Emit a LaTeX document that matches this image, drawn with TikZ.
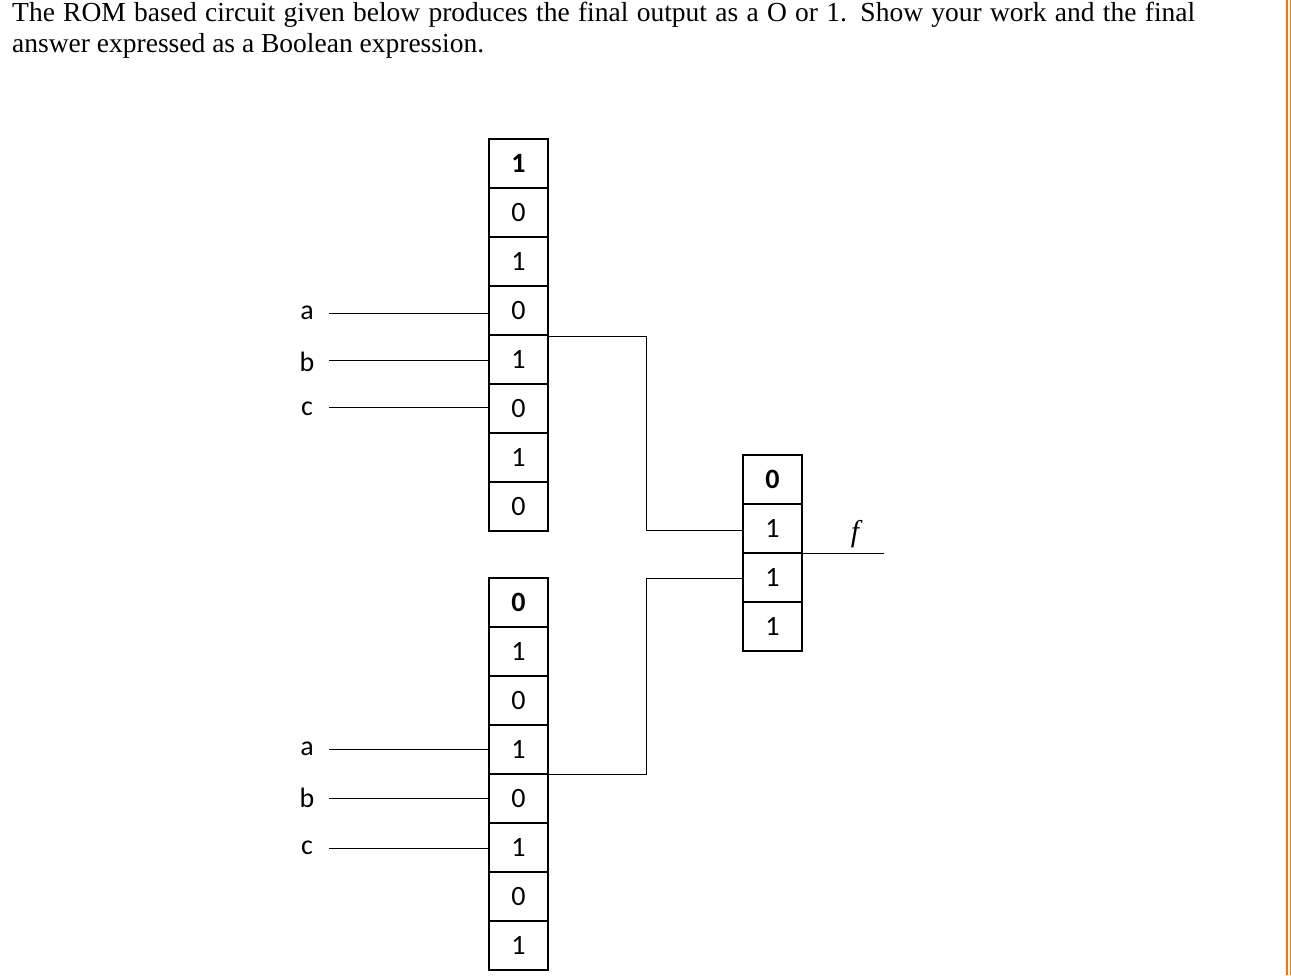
\documentclass[tikz,border=0pt]{standalone}
\usepackage{fontspec}
\setmainfont{Liberation Serif}
\newfontfamily\cellfont{Carlito}
\begin{document}
\begin{tikzpicture}[x=1pt,y=-1pt,
  cell/.style={draw,line width=1.6pt,minimum width=59pt,minimum height=49pt,inner sep=0,font=\cellfont\fontsize{28}{30}\selectfont},
  wire/.style={line width=1pt},
  lbl/.style={font=\cellfont\fontsize{28}{30}\selectfont,anchor=center}]
\useasboundingbox (0,0) rectangle (1291,975);
\fill[white] (0,0) rectangle (1291,975);
\draw[orange!90!red,line width=1.4pt] (1287,0) -- (1287,975);
\draw[orange!90!red,line width=1.4pt] (1290.5,0) -- (1290.5,975);
\node[anchor=north west,text width=1183pt,align=justify,inner sep=0,font=\fontsize{27.5}{31}\selectfont] (q) at (12,2)
 {The ROM based circuit given below produces the final output as a O or 1. Show your work and the final answer expressed as a Boolean expression.};
\foreach \v [count=\i] in {\textbf{1},0,1,0,1,0,1,0}
  \node[cell] (t\i) at (518.5,{139+24.5+(\i-1)*49}) {\v};
\foreach \v [count=\i] in {\textbf{0},1,0,1,0,1,0,1}
  \node[cell] (u\i) at (518.5,{578+24.5+(\i-1)*49}) {\v};
\foreach \v [count=\i] in {\textbf{0},1,1,1}
  \node[cell] (s\i) at (772.5,{455+24.5+(\i-1)*49}) {\v};
\foreach \n/\y/\k in {a/313/1,b/362/2,c/409/3}{
  \node[lbl] (ta\k) at (307,\y) {\n};}
\foreach \n/\y/\k in {a/749/1,b/798/2,c/848/3}{
  \node[lbl] (ua\k) at (307,\y) {\n};}
\foreach \y/\n in {313/t4,360/t5,407/t6,749/u4,798/u5,848/u6}
  \draw[wire] (329,\y) -- (\n.west |- 0,\y);
\draw[wire] (t5.east |- 0,336) -- (646,336) -- (646,530) -- (s2.west |- 0,530);
\draw[wire] (u4.east |- 0,774) -- (646,774) -- (646,578) -- (s3.west |- 0,578);
\draw[wire] (s2.east |- 0,553) -- (884,553);
\node[font=\itshape\fontsize{30}{32}\selectfont] (f) at (855,534) {f};
\end{tikzpicture}
\end{document}
